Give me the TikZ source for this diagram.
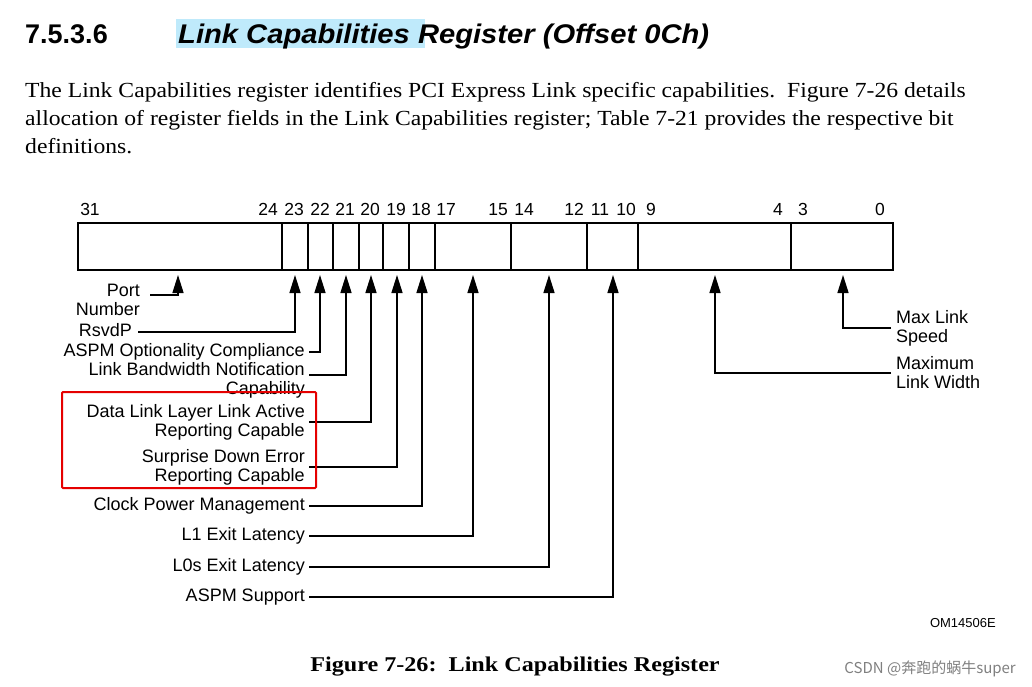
\documentclass[tikz,border=0pt]{standalone}
\usepackage{fontspec}
\setmainfont{Liberation Serif}
\newfontfamily\arial{Liberation Sans}
\newfontfamily\cjk{Noto Sans CJK SC}
\usetikzlibrary{arrows.meta}
\begin{document}
\begin{tikzpicture}[x=1pt,y=-1pt,
  lbl/.style={font=\arial\fontsize{18}{19}\selectfont,inner sep=0pt},
  lblr/.style={lbl,anchor=east,align=right},
  bit/.style={font=\arial\fontsize{17.5}{18}\selectfont,inner sep=0pt,anchor=base},
  ptr/.style={line width=1.5pt,-{Triangle[length=18pt,width=11pt]}}]
\useasboundingbox (0,0) rectangle (1032,686);
\fill[white] (0,0) rectangle (1032,686);
% title
\fill[cyan!25] (176,19) rectangle (425,48);
\node[anchor=base west,inner sep=0pt,font=\arial\bfseries\fontsize{27}{29}\selectfont] (num) at (25,43) {7.5.3.6};
\node[anchor=base west,inner sep=0pt,font=\arial\bfseries\itshape\fontsize{27}{29}\selectfont] (ttl) at (178,43) {\scalebox{1.08}[1]{Link Capabilities Register (Offset 0Ch)}};
\node[anchor=north west,inner sep=0pt,font=\fontsize{21.5}{28}\selectfont] (para) at (25,78) {\scalebox{1.1}[1]{\begin{tabular}{@{}l@{}}The Link Capabilities register identifies PCI Express Link specific capabilities.\ \ Figure 7-26 details\\allocation of register fields in the Link Capabilities register; Table 7-21 provides the respective bit\\definitions.\end{tabular}}};
% register box
\draw[line width=1.5pt] (78,223) rectangle (893,270);
\foreach \x in {282,308,333,359,383,409,435,511,587,638,791} \draw[line width=1.1pt] (\x,223) -- (\x,270);
\foreach \x/\t in {90/31,268/24,294/23,320/22,345/21,370/20,396/19,421/18,446/17,498/15,524/14,574/12,600/11,626/10,651/9,778/4,803/3,880/0}
  \node[bit] at (\x,215) {\t};
% labels
\node[lblr] (pn) at (140,300) {Port\\Number};
\node[lblr] (rs) at (132,330) {RsvdP};
\node[lblr] (ao) at (305,352) {ASPM Optionality Compliance};
\node[lblr] (lb) at (305,380) {Link Bandwidth Notification\\Capability};
\node[lblr] (dl) at (305,422) {Data Link Layer Link Active\\Reporting Capable};
\node[lblr] (sd) at (305,467) {Surprise Down Error\\Reporting Capable};
\node[lblr] (cp) at (305,506) {Clock Power Management};
\node[lblr] (l1) at (305,536) {L1 Exit Latency};
\node[lblr] (l0) at (305,567) {L0s Exit Latency};
\node[lblr] (as) at (305,597) {ASPM Support};
\node[lbl,anchor=west,align=left] (ms) at (896,328) {Max Link\\Speed};
\node[lbl,anchor=west,align=left] (mw) at (896,373) {Maximum\\Link Width};
% connectors
\draw[ptr] ([xshift=10pt,yshift=5pt]pn.east) -| (178,275);
\draw[ptr] ([xshift=6pt,yshift=-2pt]rs.east) -| (295,275);
\draw[ptr] ([xshift=4pt]ao.east) -| (320,275);
\draw[ptr] ([xshift=4pt,yshift=5pt]lb.east) -| (346,275);
\draw[ptr] ([xshift=4pt]dl.east) -| (371,275);
\draw[ptr] ([xshift=4pt]sd.east) -| (397,275);
\draw[ptr] ([xshift=4pt]cp.east) -| (422,275);
\draw[ptr] ([xshift=4pt]l1.east) -| (473,275);
\draw[ptr] ([xshift=4pt]l0.east) -| (549,275);
\draw[ptr] ([xshift=4pt]as.east) -| (613,275);
\draw[ptr] ([xshift=-5pt]ms.west) -| (843,275);
\draw[ptr] ([xshift=-5pt]mw.west) -| (715,275);
% red highlight
\draw[red!90!black,line width=2pt,rounded corners=1pt] (62,392) rectangle (316,488);
\node[anchor=east,inner sep=0pt,font=\arial\fontsize{13}{14}\selectfont] (om) at (996,623) {OM14506E};
\node[anchor=base,inner sep=0pt,font=\bfseries\fontsize{21}{22}\selectfont] (cap) at (515,671) {\scalebox{1.15}[1]{Figure 7-26:\ \ Link Capabilities Register}};
\node[anchor=base east,inner sep=0pt,text=gray,font=\cjk\fontsize{15}{16}\selectfont] (wm) at (1016,673) {CSDN @奔跑的蜗牛super};
\end{tikzpicture}
\end{document}
